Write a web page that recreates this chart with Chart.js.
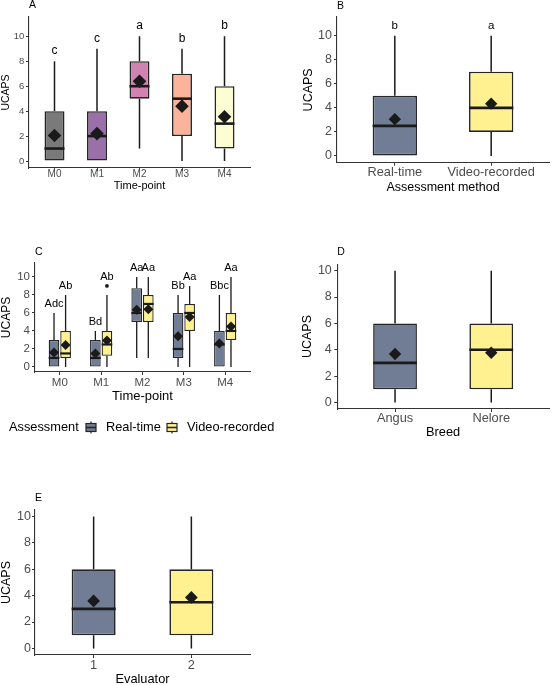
<!DOCTYPE html>
<html>
<head>
<meta charset="utf-8">
<script src="https://cdn.jsdelivr.net/npm/chart.js@4.4.1/dist/chart.umd.min.js"></script>
<style>
  body { margin: 0; background: #fff; width: 553px; height: 685px; position: relative; overflow: hidden; }
  .pnl { position: absolute; }
</style>
</head>
<body>
<div class="pnl" style="left:0;top:0;width:276px;height:200px"><canvas id="chartA"></canvas></div>
<div class="pnl" style="left:280px;top:0;width:273px;height:200px"><canvas id="chartB"></canvas></div>
<div class="pnl" style="left:0;top:240px;width:280px;height:200px"><canvas id="chartC"></canvas></div>
<div class="pnl" style="left:280px;top:240px;width:273px;height:210px"><canvas id="chartD"></canvas></div>
<div class="pnl" style="left:0;top:480px;width:280px;height:205px"><canvas id="chartE"></canvas></div>
<script>
// ---- data ----
const yTicks = [0, 2, 4, 6, 8, 10];

// A: UCAPS by time-point
const timePoints = ['M0', 'M1', 'M2', 'M3', 'M4'];
const aMin = [0, 0, 1, 0, 0];
const aQ1 = [0, 0, 5, 2, 1];
const aMed = [1, 2, 6, 5, 3];
const aQ3 = [4, 4, 8, 7, 6];
const aMax = [8, 9, 10, 9, 10];
const aMean = [2.05, 2.2, 6.4, 4.4, 3.55];
const aLetters = ['c', 'c', 'a', 'b', 'b'];
const aColors = ['#7a7a7a', '#9a6faa', '#d083b1', '#fbb49b', '#fdfdd4'];

// B: assessment method
const methods = ['Real-time', 'Video-recorded'];
const bMin = [0, 0];
const bQ1 = [0, 2];
const bMed = [2.5, 4];
const bQ3 = [5, 7];
const bMax = [10, 10];
const bMean = [3.06, 4.35];
const bLetters = ['b', 'a'];

// C: time-point x assessment
const realMin = [0, 0, 1, 0, 0];
const realQ1 = [0, 0, 5, 1, 0];
const realMed = [1, 1, 6, 2, 2.5];
const realQ3 = [3, 3, 8.75, 6, 4];
const realMax = [6, 4, 10, 8, 8];
const realMean = [1.6, 1.5, 6.35, 3.4, 2.6];
const realLetters = ['Adc', 'Bd', 'Aa', 'Bb', 'Bbc'];
const videoMin = [0, 0, 1, 0, 0];
const videoQ1 = [1, 1.25, 5, 4, 3];
const videoMed = [1.5, 2.5, 7, 6, 4];
const videoQ3 = [4, 4, 8, 7, 6];
const videoMax = [8, 8, 10, 9, 10];
const videoMean = [2.45, 2.95, 6.4, 5.55, 4.5];
const videoOut = [[], [9], [], [], []];
const videoLetters = ['Ab', 'Ab', 'Aa', 'Aa', 'Aa'];

// D: breed
const breeds = ['Angus', 'Nelore'];
const dMin = [0, 0];
const dQ1 = [1, 1];
const dMed = [3, 4];
const dQ3 = [6, 6];
const dMax = [10, 10];
const dMean = [3.67, 3.77];

// E: evaluator
const evaluators = ['1', '2'];
const eMin = [0, 0];
const eQ1 = [1, 1];
const eMed = [3, 3.5];
const eQ3 = [6, 6];
const eMax = [10, 10];
const eMean = [3.6, 3.87];

const realColor = '#717d94';
const videoColor = '#fff190';
const FAM = '"Liberation Sans", Arial, sans-serif';

// whiskers, medians, means, outliers and letters on top of floating bars
const boxParts = {
  id: 'boxParts',
  beforeDatasetsDraw(chart, args, o) {
    const ctx = chart.ctx, ys = chart.scales.y;
    chart.data.datasets.forEach((ds, di) => {
      const s = ds.stats;
      chart.getDatasetMeta(di).data.forEach((bar, i) => {
        ctx.save();
        ctx.strokeStyle = '#1a1a1a';
        ctx.lineWidth = o.whisker;
        ctx.beginPath();
        ctx.moveTo(bar.x, ys.getPixelForValue(s.max[i]));
        ctx.lineTo(bar.x, ys.getPixelForValue(s.q3[i]));
        ctx.moveTo(bar.x, ys.getPixelForValue(s.q1[i]));
        ctx.lineTo(bar.x, ys.getPixelForValue(s.min[i]));
        ctx.stroke();
        ctx.restore();
      });
    });
  },
  afterDatasetsDraw(chart, args, o) {
    const ctx = chart.ctx, ys = chart.scales.y;
    chart.data.datasets.forEach((ds, di) => {
      const s = ds.stats;
      chart.getDatasetMeta(di).data.forEach((bar, i) => {
        ctx.save();
        // median
        const my = ys.getPixelForValue(s.med[i]);
        ctx.strokeStyle = '#1a1a1a';
        ctx.lineWidth = o.median;
        ctx.beginPath();
        ctx.moveTo(bar.x - bar.width / 2, my);
        ctx.lineTo(bar.x + bar.width / 2, my);
        ctx.stroke();
        // outliers
        ctx.fillStyle = '#1a1a1a';
        const outs = s.out ? s.out[i] : [];
        outs.forEach(v => {
          ctx.beginPath();
          ctx.arc(bar.x, ys.getPixelForValue(v), 1.9, 0, Math.PI * 2);
          ctx.fill();
        });
        // mean diamond
        const r = o.diamond, cy = ys.getPixelForValue(s.mean[i]);
        ctx.beginPath();
        ctx.moveTo(bar.x - r, cy);
        ctx.lineTo(bar.x, cy - r);
        ctx.lineTo(bar.x + r, cy);
        ctx.lineTo(bar.x, cy + r);
        ctx.closePath();
        ctx.fill();
        // letters
        if (s.letters) {
          const top = Math.max(s.max[i], ...outs);
          ctx.font = o.letterFs + 'px ' + FAM;
          ctx.textAlign = 'center';
          ctx.textBaseline = 'alphabetic';
          ctx.fillStyle = '#000';
          ctx.fillText(s.letters[i], bar.x, ys.getPixelForValue(top + o.letterOff));
        }
        ctx.restore();
      });
    });
    // panel tag
    ctx.save();
    ctx.font = o.tagFs + 'px ' + FAM;
    ctx.fillStyle = '#000';
    ctx.textAlign = 'left';
    ctx.textBaseline = 'middle';
    ctx.fillText(o.tag, chart.chartArea.left, o.tagY);
    ctx.restore();
    // legend (panel C)
    if (o.legend) {
      const lg = o.legend;
      ctx.save();
      ctx.font = lg.fs + 'px ' + FAM;
      ctx.fillStyle = '#000';
      ctx.textBaseline = 'middle';
      ctx.textAlign = 'left';
      ctx.fillText(lg.title, lg.titleX, lg.y);
      lg.items.forEach(it => {
        const kx = it.keyX, ky = lg.y;
        ctx.strokeStyle = '#262626';
        ctx.lineWidth = 1.2;
        ctx.beginPath();
        ctx.moveTo(kx + 5, ky - 6);
        ctx.lineTo(kx + 5, ky + 6);
        ctx.stroke();
        ctx.fillStyle = it.color;
        ctx.fillRect(kx, ky - 4, 10, 8);
        ctx.strokeRect(kx, ky - 4, 10, 8);
        ctx.lineWidth = 1.6;
        ctx.beginPath();
        ctx.moveTo(kx, ky);
        ctx.lineTo(kx + 10, ky);
        ctx.stroke();
        ctx.fillStyle = '#000';
        ctx.fillText(it.text, it.textX, ky);
      });
      ctx.restore();
    }
  }
};

function makePanel(id, p) {
  const tl = 3;
  const n = p.cats.length;
  const datasets = p.series.map(s => ({
    data: p.cats.map((c, i) => ({ x: i, y: [s.q1[i], s.q3[i]] })),
    backgroundColor: s.color,
    borderColor: '#262626',
    borderWidth: p.boxLine,
    borderSkipped: false,
    categoryPercentage: p.catPct,
    barPercentage: p.barPct,
    stats: s
  }));
  const axisGrid = { drawOnChartArea: false, drawTicks: true, tickLength: tl, color: '#333', offset: false };
  const axisBorder = { display: true, color: '#333', width: 1.1 };
  new Chart(document.getElementById(id), {
    type: 'bar',
    data: { datasets },
    plugins: [boxParts],
    options: {
      responsive: true,
      maintainAspectRatio: false,
      animation: false,
      layout: { padding: { left: 0, top: p.T, right: p.w - p.R, bottom: 0 } },
      plugins: {
        legend: { display: false },
        tooltip: { enabled: false },
        boxParts: {
          whisker: p.whisker, median: p.median, diamond: p.diamond,
          letterFs: p.letterFs, letterOff: p.letterOff,
          tag: p.tag, tagY: p.tagY, tagFs: p.tagFs,
          legend: p.legend || null
        }
      },
      scales: {
        x: {
          type: 'linear',
          min: -0.6,
          max: n - 0.4,
          offset: false,
          afterBuildTicks: s => { s.ticks = p.cats.map((c, i) => ({ value: i })); },
          afterFit: s => { s.height = p.h - p.B; },
          ticks: {
            callback: v => p.cats[v],
            autoSkip: false,
            maxRotation: 0,
            color: '#4d4d4d',
            font: { family: FAM, size: p.xTickFs, lineHeight: 1 },
            padding: p.xTickY - p.B - tl - p.xTickFs / 2
          },
          grid: axisGrid,
          border: axisBorder,
          title: {
            display: true,
            text: p.xTitle,
            color: '#000',
            font: { family: FAM, size: p.xTitleFs, lineHeight: 1 },
            padding: { top: 0, bottom: p.h - p.xTitleY - p.xTitleFs / 2 }
          }
        },
        y: {
          type: 'linear',
          min: p.yMin,
          max: p.yMax,
          afterBuildTicks: s => { s.ticks = yTicks.map(v => ({ value: v })); },
          afterFit: s => { s.width = p.L; },
          ticks: {
            color: '#4d4d4d',
            font: { family: FAM, size: p.yTickFs, lineHeight: 1 },
            padding: p.yGap - tl
          },
          grid: axisGrid,
          border: axisBorder,
          title: {
            display: true,
            text: 'UCAPS',
            color: '#000',
            font: { family: FAM, size: p.yTitleFs, lineHeight: 1 },
            padding: { top: p.yTitleX - p.yTitleFs / 2, bottom: 0 }
          }
        }
      }
    }
  });
}

makePanel('chartA', {
  cats: timePoints,
  series: [{ min: aMin, q1: aQ1, med: aMed, q3: aQ3, max: aMax, mean: aMean, letters: aLetters, color: aColors }],
  w: 276, h: 200, L: 29, R: 250, T: 17, B: 168, yMin: -0.56, yMax: 11.55,
  catPct: 1, barPct: 0.47, boxLine: 1.6, whisker: 1.5, median: 2.6, diamond: 6.8,
  letterFs: 12, letterOff: 0.57, tag: 'A', tagY: 5.5, tagFs: 10.5,
  xTitle: 'Time-point', xTickFs: 10, xTickY: 174.2, xTitleFs: 11, xTitleY: 185.7,
  yTickFs: 9.5, yGap: 4.7, yTitleFs: 10.5, yTitleX: 6
});

makePanel('chartB', {
  cats: methods,
  series: [{ min: bMin, q1: bQ1, med: bMed, q3: bQ3, max: bMax, mean: bMean, letters: bLetters, color: [realColor, videoColor] }],
  w: 273, h: 200, L: 57, R: 269, T: 17, B: 162.7, yMin: -0.56, yMax: 11.55,
  catPct: 1, barPct: 0.46, boxLine: 1.6, whisker: 1.5, median: 2.6, diamond: 6.2,
  letterFs: 11.5, letterOff: 0.56, tag: 'B', tagY: 6, tagFs: 10.5,
  xTitle: 'Assessment method', xTickFs: 12.8, xTickY: 172.8, xTitleFs: 12.5, xTitleY: 187.3,
  yTickFs: 12.5, yGap: 5, yTitleFs: 12.5, yTitleX: 28.5
});

makePanel('chartC', {
  cats: timePoints,
  series: [
    { min: realMin, q1: realQ1, med: realMed, q3: realQ3, max: realMax, mean: realMean, letters: realLetters, color: realColor },
    { min: videoMin, q1: videoQ1, med: videoMed, q3: videoQ3, max: videoMax, mean: videoMean, out: videoOut, letters: videoLetters, color: videoColor }
  ],
  w: 280, h: 200, L: 35, R: 250, T: 23, B: 132, yMin: -0.56, yMax: 11.55,
  catPct: 0.56, barPct: 0.92, boxLine: 1.3, whisker: 1.3, median: 2.2, diamond: 5,
  letterFs: 11, letterOff: 0.62, tag: 'C', tagY: 12, tagFs: 10.5,
  xTitle: 'Time-point', xTickFs: 11.5, xTickY: 142.5, xTitleFs: 13, xTitleY: 156,
  yTickFs: 11.5, yGap: 5, yTitleFs: 12, yTitleX: 6.7,
  legend: {
    y: 187.5, fs: 12.8, title: 'Assessment', titleX: 9,
    items: [
      { keyX: 86, text: 'Real-time', textX: 106, color: realColor },
      { keyX: 167, text: 'Video-recorded', textX: 187, color: videoColor }
    ]
  }
});

makePanel('chartD', {
  cats: breeds,
  series: [{ min: dMin, q1: dQ1, med: dMed, q3: dQ3, max: dMax, mean: dMean, color: [realColor, videoColor] }],
  w: 273, h: 210, L: 57.3, R: 269, T: 24.1, B: 169, yMin: -0.5, yMax: 10.5,
  catPct: 1, barPct: 0.455, boxLine: 1.6, whisker: 1.5, median: 2.6, diamond: 6.2,
  letterFs: 11.5, letterOff: 0.56, tag: 'D', tagY: 12, tagFs: 10.5,
  xTitle: 'Breed', xTickFs: 12.8, xTickY: 178, xTitleFs: 12.8, xTitleY: 192.7,
  yTickFs: 12.5, yGap: 5.5, yTitleFs: 12.5, yTitleX: 28
});

makePanel('chartE', {
  cats: evaluators,
  series: [{ min: eMin, q1: eQ1, med: eMed, q3: eQ3, max: eMax, mean: eMean, color: [realColor, videoColor] }],
  w: 280, h: 205, L: 35, R: 250, T: 30, B: 175, yMin: -0.5, yMax: 10.5,
  catPct: 1, barPct: 0.45, boxLine: 1.6, whisker: 1.5, median: 2.6, diamond: 6.4,
  letterFs: 11.5, letterOff: 0.56, tag: 'E', tagY: 18, tagFs: 10.5,
  xTitle: 'Evaluator', xTickFs: 12.8, xTickY: 185, xTitleFs: 12.8, xTitleY: 199.7,
  yTickFs: 12.5, yGap: 4, yTitleFs: 12.5, yTitleX: 6.7
});
</script>
</body>
</html>
